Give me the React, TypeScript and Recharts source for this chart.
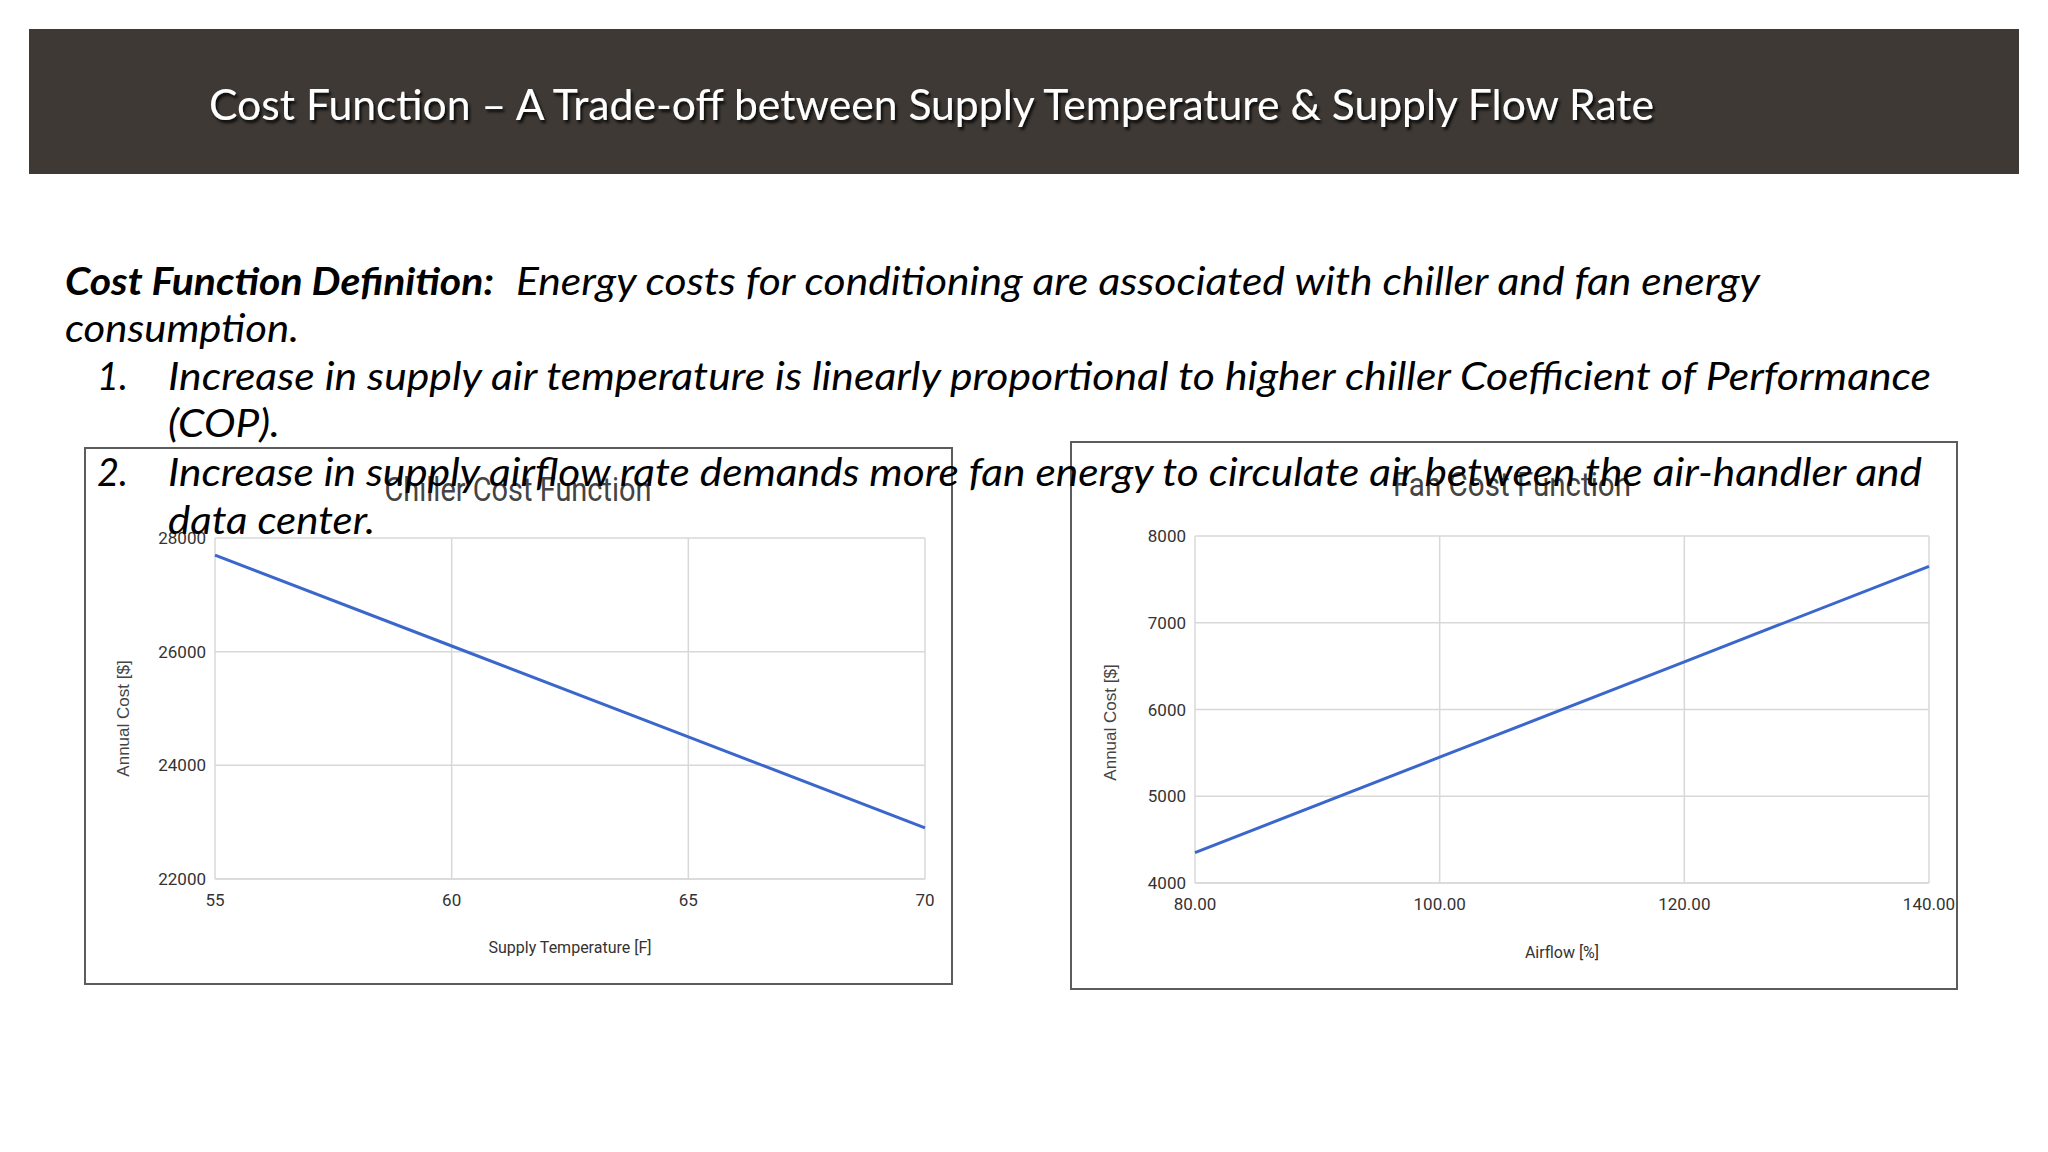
import { LineChart, Line, XAxis, YAxis, CartesianGrid } from "recharts";

// chiller cost vs supply temperature
const chillerTemps = [55, 60, 65, 70];
const chillerCost = [27700, 26100, 24500, 22900];
const chillerXTicks = [55, 60, 65, 70];
const chillerYTicks = [22000, 24000, 26000, 28000];

// fan cost vs airflow
const fanAirflow = [80, 100, 120, 140];
const fanCost = [4350, 5450, 6550, 7650];
const fanXTicks = [80, 100, 120, 140];
const fanYTicks = [4000, 5000, 6000, 7000, 8000];

const LINE_COLOR = "#3b67cc";
const GRID_COLOR = "#d8d8d8";
const TICK_FONT = "Roboto, 'Noto Sans', sans-serif";
const SLIDE_FONT = "Lato, 'Open Sans', sans-serif";

type CostChartProps = {
  left: number;
  top: number;
  width: number;
  height: number;
  margin: { top: number; right: number; left: number; bottom: number };
  yAxisWidth: number;
  xAxisHeight: number;
  data: { x: number; cost: number }[];
  xTicks: number[];
  yTicks: number[];
  xFormat?: (v: number) => string;
  xLabel: string;
  xLabelOffset: number;
  yLabelOffset: number;
  yLabelDy: number;
};

function CostChart(p: CostChartProps) {
  const tickStyle = { fontFamily: TICK_FONT, fontSize: 17, fill: "#333" };
  return (
    <div
      style={{
        position: "absolute",
        left: p.left,
        top: p.top,
        width: p.width,
        height: p.height,
      }}
    >
      <div
        style={{
          position: "absolute",
          inset: 0,
          border: "2px solid #5c5c5c",
          boxSizing: "border-box",
        }}
      />
      <LineChart width={p.width} height={p.height} data={p.data} margin={p.margin}>
        <CartesianGrid stroke={GRID_COLOR} strokeWidth={1.5} />
        <XAxis
          dataKey="x"
          type="number"
          domain={[p.xTicks[0], p.xTicks[p.xTicks.length - 1]]}
          ticks={p.xTicks}
          tickFormatter={p.xFormat}
          height={p.xAxisHeight}
          axisLine={{ stroke: GRID_COLOR, strokeWidth: 1.5 }}
          tickLine={false}
          tickSize={0}
          tickMargin={15}
          tick={tickStyle}
          interval={0}
          label={{
            value: p.xLabel,
            position: "insideBottom",
            offset: p.xLabelOffset,
            style: { fontFamily: TICK_FONT, fontSize: 16, fill: "#333" },
          }}
        />
        <YAxis
          type="number"
          domain={[p.yTicks[0], p.yTicks[p.yTicks.length - 1]]}
          ticks={p.yTicks}
          width={p.yAxisWidth}
          axisLine={false}
          tickLine={false}
          tickSize={0}
          tickMargin={9}
          tick={tickStyle}
          interval={0}
          label={{
            value: "Annual Cost [$]",
            angle: -90,
            position: "insideLeft",
            offset: p.yLabelOffset,
            dy: p.yLabelDy,
            style: {
              fontFamily: "'Liberation Sans', Arial, sans-serif",
              fontSize: 17,
              fill: "#444",
              textAnchor: "middle",
            },
          }}
        />
        <Line
          dataKey="cost"
          type="linear"
          stroke={LINE_COLOR}
          strokeWidth={3}
          dot={false}
          isAnimationActive={false}
        />
      </LineChart>
    </div>
  );
}

export default function App() {
  const chillerData = chillerTemps.map((t, i) => ({ x: t, cost: chillerCost[i] }));
  const fanData = fanAirflow.map((a, i) => ({ x: a, cost: fanCost[i] }));

  const body = { fontFamily: SLIDE_FONT, fontSize: 38, fontStyle: "italic", fill: "#000" };

  return (
    <div
      style={{
        position: "absolute",
        left: 0,
        top: 0,
        width: 2048,
        height: 1152,
        background: "#fff",
        overflow: "hidden",
      }}
    >
      <div
        style={{
          position: "absolute",
          left: 29,
          top: 29,
          width: 1990,
          height: 145,
          background: "#3e3934",
        }}
      />

      <CostChart
        left={84}
        top={447}
        width={869}
        height={538}
        margin={{ top: 91, right: 28, left: 0, bottom: 0 }}
        yAxisWidth={131}
        xAxisHeight={106}
        data={chillerData}
        xTicks={chillerXTicks}
        yTicks={chillerYTicks}
        xLabel="Supply Temperature [F]"
        xLabelOffset={32}
        yLabelOffset={39}
        yLabelDy={10}
      />

      <CostChart
        left={1070}
        top={441}
        width={888}
        height={549}
        margin={{ top: 95, right: 29, left: 0, bottom: 0 }}
        yAxisWidth={125}
        xAxisHeight={107}
        data={fanData}
        xTicks={fanXTicks}
        yTicks={fanYTicks}
        xFormat={(v: number) => v.toFixed(2)}
        xLabel="Airflow [%]"
        xLabelOffset={32}
        yLabelOffset={40}
        yLabelDy={13}
      />

      <svg
        width={2048}
        height={1152}
        style={{ position: "absolute", left: 0, top: 0, pointerEvents: "none" }}
      >
        <defs>
          <filter id="titleShadow" x="-5%" y="-50%" width="110%" height="200%">
            <feDropShadow dx="2" dy="3" stdDeviation="1.5" floodColor="#000" floodOpacity="0.85" />
          </filter>
        </defs>

        <text
          x={209}
          y={120}
          fontFamily={SLIDE_FONT}
          fontSize={43}
          fill="#fff"
          textLength={1445}
          lengthAdjust="spacingAndGlyphs"
          filter="url(#titleShadow)"
        >
          Cost Function – A Trade-off between Supply Temperature &amp; Supply Flow Rate
        </text>

        {/* chart titles */}
        <text
          x={518}
          y={501}
          textAnchor="middle"
          fontFamily={TICK_FONT}
          fontSize={33}
          fill="#444"
          textLength={267}
          lengthAdjust="spacingAndGlyphs"
        >
          Chiller Cost Function
        </text>
        <text
          x={1512}
          y={496}
          textAnchor="middle"
          fontFamily={TICK_FONT}
          fontSize={33}
          fill="#444"
          textLength={238}
          lengthAdjust="spacingAndGlyphs"
        >
          Fan Cost Function
        </text>

        {/* slide body text */}
        <text x={65} y={295} {...body} fontWeight={700} textLength={429} lengthAdjust="spacingAndGlyphs">
          Cost Function Definition:
        </text>
        <text x={516} y={295} {...body} textLength={1244} lengthAdjust="spacingAndGlyphs">
          Energy costs for conditioning are associated with chiller and fan energy
        </text>
        <text x={65} y={342} {...body} textLength={234} lengthAdjust="spacingAndGlyphs">
          consumption.
        </text>
        <text x={97} y={390} {...body}>1.</text>
        <text x={168} y={390} {...body} textLength={1763} lengthAdjust="spacingAndGlyphs">
          Increase in supply air temperature is linearly proportional to higher chiller Coefficient of Performance
        </text>
        <text x={168} y={437} {...body} textLength={112} lengthAdjust="spacingAndGlyphs">
          (COP).
        </text>
        <text x={97} y={486} {...body}>2.</text>
        <text x={168} y={486} {...body} textLength={1754} lengthAdjust="spacingAndGlyphs">
          Increase in supply airflow rate demands more fan energy to circulate air between the air-handler and
        </text>
        <text x={168} y={534} {...body} textLength={207} lengthAdjust="spacingAndGlyphs">
          data center.
        </text>
      </svg>
    </div>
  );
}
